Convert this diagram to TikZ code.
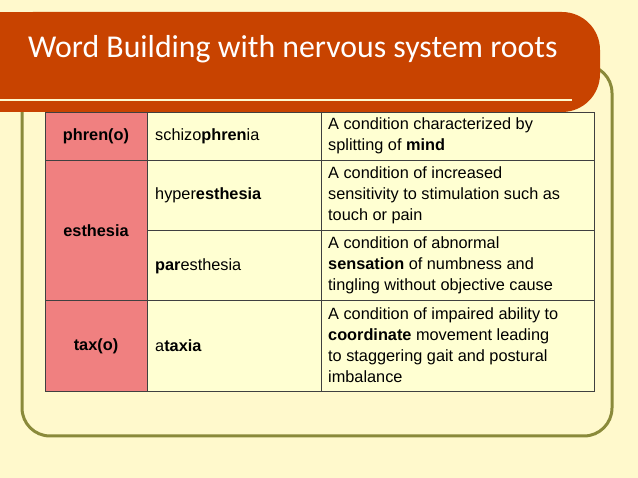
\documentclass[tikz,border=0pt]{standalone}
\usepackage{fontspec}
\setmainfont{Liberation Sans}
\newfontfamily\titlefont{Carlito}
\begin{document}
\begin{tikzpicture}[x=1pt,y=-1pt,
  cell/.style={draw=black!75,line width=0.6pt},
  hd/.style={font=\bfseries\fontsize{16.3}{20.8}\selectfont,inner sep=0pt},
  txt/.style={anchor=west,align=left,font=\fontsize{16.3}{20.8}\selectfont,inner sep=0pt}]
\definecolor{bg}{HTML}{FFF9CC}
\definecolor{banner}{HTML}{C84300}
\definecolor{olive}{HTML}{8A8A3A}
\definecolor{pinkc}{HTML}{F08080}
\definecolor{cellc}{HTML}{FFFFD2}
\fill[bg] (0,0) rectangle (638,478);
\useasboundingbox (0,0) rectangle (638,478);
% frame
\draw[olive,line width=3pt,rounded corners=28pt] (22,100) -- (22,436) -- (612,436) -- (612,65) -- (585,65);
% banner
\fill[banner,rounded corners=38pt] (-5,12) -- (600,12) -- (600,112) -- (-5,112) -- cycle;
\fill[banner] (-5,12) rectangle (300,112);
\draw[bg,line width=2.5pt] (0,100) -- (572,100);
\node[anchor=west,text=white,font=\titlefont\fontsize{31.8}{36}\selectfont,inner sep=0pt] (title) at (28,49) {Word Building with nervous system roots};
% table
\fill[pinkc] (45,112) rectangle (147,391);
\fill[cellc] (147,112) rectangle (594,391);
\draw[cell] (45,112) rectangle (594,391);
\draw[cell] (147,112) -- (147,391) (321,112) -- (321,391);
\draw[cell] (45,160) -- (594,160) (45,300) -- (594,300) (147,230) -- (594,230);
\node[hd] (r1) at (96,136) {phren(o)};
\node[hd] (r2) at (96,231) {esthesia};
\node[hd] (r3) at (96,346) {tax(o)};
\node[txt] (w1) at (155,136) {schizo\textbf{phren}ia};
\node[txt] (w2) at (155,195) {hyper\textbf{esthesia}};
\node[txt] (w3) at (155,266) {\textbf{par}esthesia};
\node[txt] (w4) at (155,346) {a\textbf{taxia}};
\node[txt] (d1) at (328,136) {A condition characterized by\\splitting of \textbf{mind}};
\node[txt] (d2) at (328,195) {A condition of increased\\sensitivity to stimulation such as\\touch or pain};
\node[txt] (d3) at (328,265) {A condition of abnormal\\\textbf{sensation} of numbness and\\tingling without objective cause};
\node[txt] (d4) at (328,345) {A condition of impaired ability to\\\textbf{coordinate} movement leading\\to staggering gait and postural\\imbalance};
\end{tikzpicture}
\end{document}
